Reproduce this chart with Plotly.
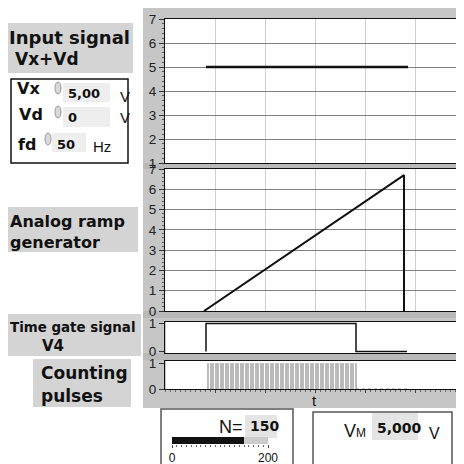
import plotly.graph_objects as go

W = 464  # panel is 464 x 464 px
OFF = 8  # page body margin, compensated in the layout helpers

# values
t_grid = [50, 100, 150, 200, 250]
input_t = [41, 243]
input_v = [5, 5]
ramp_t = [39, 239, 239]
ramp_v = [0, 6.7, 0]
gate_t = [41, 41, 191, 191, 242]
gate_v = [0, 1, 1, 0, 0]
pulse_t = [43, 46, 48, 51, 53, 56, 58, 61, 63, 66, 68, 71, 73, 76, 78,
           81, 83, 86, 88, 91, 93, 96, 98, 101, 103, 106, 108, 111, 113, 116,
           118, 121, 123, 126, 128, 131, 133, 136, 138, 141, 143, 146, 148, 151, 153,
           156, 158, 161, 163, 166, 168, 171, 173, 176, 178, 181, 183, 186, 188, 191]
rest_t = [191, 242]
rest_v = [0, 0]
count_n = 150
count_max = 200
vx_txt, vd_txt, fd_txt = "5,00", "0", "50"
vm_txt = "5,000"


def px(x):
    return (x - OFF) / W


def py(y):
    return 1 - (y - OFF) / W


# pulse train as vertical strokes
pulse_x, pulse_y = [], []
for t in pulse_t:
    pulse_x += [t, t, None]
    pulse_y += [0, 1, None]

fig = go.Figure()
fig.add_trace(go.Scatter(x=input_t, y=input_v, mode="lines", xaxis="x", yaxis="y",
                         line=dict(color="#111", width=2.5)))
fig.add_trace(go.Scatter(x=ramp_t, y=ramp_v, mode="lines", xaxis="x2", yaxis="y2",
                         line=dict(color="#111", width=2)))
fig.add_trace(go.Scatter(x=gate_t, y=gate_v, mode="lines", xaxis="x3", yaxis="y3",
                         line=dict(color="#111", width=1.5)))
fig.add_trace(go.Scatter(x=pulse_x, y=pulse_y, mode="lines", xaxis="x4", yaxis="y4",
                         line=dict(color="#777", width=1)))
fig.add_trace(go.Scatter(x=rest_t, y=rest_v, mode="lines", xaxis="x4", yaxis="y4",
                         line=dict(color="#999", width=1, dash="dot")))
fig.add_trace(go.Bar(x=[count_n], y=[0], orientation="h", xaxis="x5", yaxis="y5",
                     width=1, marker=dict(color="#111", line=dict(width=0))))

tickfont = dict(family="Liberation Sans", size=13.5, color="#222")
xdom = [px(165), px(471)]
xrange = [0, 306]


def xax(grid, ticks=False):
    return dict(domain=xdom, range=xrange, showgrid=grid, gridcolor="#cfcfcf",
                tickvals=t_grid, showticklabels=False, zeroline=False, automargin=False,
                showline=True, linecolor="#111", mirror=True,
                ticks="outside" if ticks else "", ticklen=3, tickcolor="#444",
                minor=dict(dtick=5, ticks="outside", ticklen=2, tickcolor="#666") if ticks else None)


def yax(dom, rng, vals, grid, minor):
    d = dict(domain=dom, range=rng, tickvals=vals, showgrid=grid, gridcolor="#808080",
             zeroline=False, showline=True, linecolor="#111", mirror=False, automargin=False,
             ticks="outside", ticklen=5, tickcolor="#333", tickfont=tickfont)
    if minor:
        d["minor"] = dict(dtick=0.2, ticks="outside", ticklen=2, tickcolor="#555")
    return d


shapes = []


def rect(x0, y0, x1, y1, fill=None, line=None, lw=1):
    shapes.append(dict(type="rect", xref="paper", yref="paper", layer="below",
                       x0=px(x0), x1=px(x1), y0=py(y1), y1=py(y0),
                       fillcolor=fill or "rgba(0,0,0,0)",
                       line=dict(color=line or "rgba(0,0,0,0)", width=lw)))


# graph frame and plot areas
rect(143, 0, 480, 408, fill="#c6c6c6")
for y0, y1 in [(163, 169), (311, 318), (353, 360)]:
    rect(143, y0, 480, y1, fill="#b9b9b9")
rect(165, 19, 480, 163, fill="white")
rect(165, 169, 480, 311, fill="white")
rect(166, 322, 480, 353, fill="white")
rect(166, 361, 480, 389, fill="white")

# label boxes
rect(6, 23, 133, 73, fill="#d4d4d4")
rect(4, 207, 138, 252, fill="#d4d4d4")
rect(0, 314, 141, 356, fill="#d4d4d4")
rect(33, 359, 131, 407, fill="#d4d4d4")

# control cluster
rect(11, 79, 128, 163, line="#111", lw=1.5)
rect(63, 83, 110, 102, fill="#eeeeee")
rect(63, 107, 110, 127, fill="#eeeeee")
rect(52, 133, 86, 152, fill="#eeeeee")
for x0, y0 in [(55, 82), (55, 106), (45, 133)]:
    shapes.append(dict(type="circle", xref="paper", yref="paper", layer="below",
                       x0=px(x0), x1=px(x0 + 6), y0=py(y0 + 12), y1=py(y0),
                       fillcolor="#d8d8d8", line=dict(color="#999", width=1)))

# indicators
rect(161, 409, 293, 480, line="#555", lw=1.5)
rect(313, 412, 452, 480, line="#555", lw=1.5)
rect(245, 415, 277, 438, fill="#e4e4e4")
rect(372, 413, 418, 440, fill="#e4e4e4")
rect(172, 437, 268, 444, fill="#cccccc")

ann = []


def text(x, y, s, size=17, bold=True, anchor="left", family="DejaVu Sans", color="#111"):
    ann.append(dict(xref="paper", yref="paper", x=px(x), y=py(y), text=f"<b>{s}</b>" if bold else s,
                    showarrow=False, xanchor=anchor, yanchor="middle",
                    font=dict(family=family, size=size, color=color)))


text(7, 37, "Input signal", 18)
text(13, 59, "Vx+Vd", 17)
text(8, 221, "Analog ramp", 16)
text(8, 242, "generator", 16)
text(8, 327, "Time gate signal", 13.4)
text(40, 346, "V4", 15)
text(39, 373, "Counting", 17)
text(39, 396, "pulses", 17)

text(15, 89, "Vx", 16)
text(17, 114, "Vd", 16)
text(16, 144, "fd", 16)
text(66, 93, vx_txt, 13)
text(66, 118, vd_txt, 13)
text(55, 144, fd_txt, 13)
text(118, 97, "V", 15, bold=False, family="Liberation Sans")
text(118, 118, "V", 15, bold=False, family="Liberation Sans")
text(91, 147, "Hz", 15, bold=False, family="Liberation Sans")

text(314, 400, "t", 15, bold=False, anchor="center", family="Liberation Sans")
text(217, 427, "N=", 18, bold=False, family="Liberation Sans")
text(248, 426, str(count_n), 14)
text(342, 431, "V<span style='font-size:12px'>M</span>", 18, bold=False, family="Liberation Sans")
text(375, 428, vm_txt, 14)
text(427, 433, "V", 16, bold=False, family="Liberation Sans")

fig.update_layout(
    width=W, height=W, margin=dict(l=0, r=0, t=0, b=0, autoexpand=False),
    paper_bgcolor="white", plot_bgcolor="rgba(0,0,0,0)", showlegend=False,
    font=dict(family="DejaVu Sans"),
    xaxis=xax(True), xaxis2=xax(True), xaxis3=xax(False), xaxis4=xax(False, ticks=True),
    yaxis=yax([py(163), py(19)], [1, 7], [1, 2, 3, 4, 5, 6, 7], True, True),
    yaxis2=yax([py(311), py(169)], [0, 7], [0, 1, 2, 3, 4, 5, 6, 7], True, True),
    yaxis3=yax([py(353), py(322)], [-0.05, 1.05], [0, 1], False, False),
    yaxis4=yax([py(389), py(361)], [0, 1.08], [0, 1], False, False),
    xaxis5=dict(domain=[px(172), px(268)], range=[0, count_max], tickvals=[0, count_max],
                ticks="outside", ticklen=3, tickcolor="#444", showline=False, showgrid=False,
                zeroline=False, automargin=False,
                tickfont=dict(family="Liberation Sans", size=12, color="#111"),
                minor=dict(dtick=10, ticks="outside", ticklen=2, tickcolor="#666"),
                anchor="y5"),
    yaxis5=dict(domain=[py(444), py(437)], range=[-0.5, 0.5], visible=False, anchor="x5",
                automargin=False),
    shapes=shapes, annotations=ann,
)
for i in ["", "2", "3", "4"]:
    fig.layout["xaxis" + i].anchor = "y" + i
    fig.layout["yaxis" + (i or "")].anchor = "x" + i

fig.write_html("out.html")
